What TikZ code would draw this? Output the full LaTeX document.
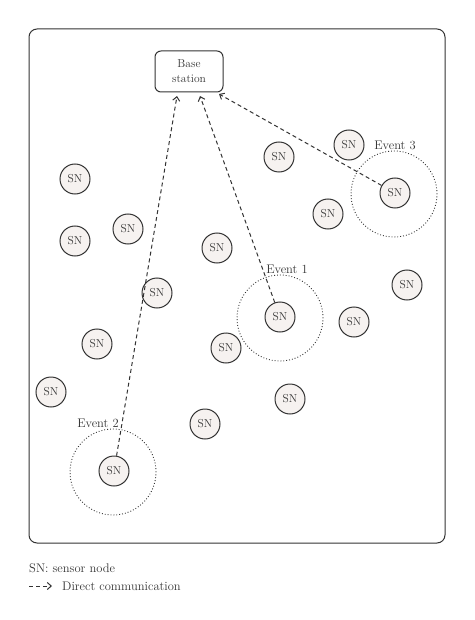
\documentclass[tikz,border=0pt]{standalone}
\usetikzlibrary{arrows.meta}
\definecolor{ink}{HTML}{333333}
\definecolor{snfill}{HTML}{F6F2F0}
\begin{document}
\begin{tikzpicture}[x=1pt,y=-1pt,
  sn/.style={circle,draw=ink,line width=1pt,fill=snfill,minimum size=30pt,inner sep=0pt,font=\fontsize{11.5}{12}\selectfont,text=ink},
  evt/.style={circle,draw=ink,dotted,line width=0.9pt,minimum size=86pt,inner sep=0pt},
  lbl/.style={font=\fontsize{12.5}{14}\selectfont,text=ink,inner sep=0pt},
  comm/.style={draw=ink,dashed,line width=1pt,dash pattern=on 4pt off 3pt,-{Straight Barb[length=4pt,width=7pt]}}]
\useasboundingbox (0,0) rectangle (474,620);
\draw[ink,line width=1pt,rounded corners=8pt] (29,29) rectangle (445,543);
\node[draw=ink,line width=1pt,rounded corners=6pt,minimum width=68pt,minimum height=41pt,align=center,
  font=\fontsize{11.5}{15}\selectfont,text=ink,inner sep=0pt] (bs) at (189,71.5) {Base\\station};
% event circles
\node[evt] (e3) at (394,194) {};
\node[evt] (e1) at (280,318) {};
\node[evt] (e2) at (113,472) {};
% sensor nodes
\node[sn] (s1) at (349,145) {SN};
\node[sn] (s2) at (279,157) {SN};
\node[sn] (s3) at (395,193) {SN};
\node[sn] (s4) at (328,214) {SN};
\node[sn] (s5) at (75,179) {SN};
\node[sn] (s6) at (75,241) {SN};
\node[sn] (s7) at (128,229) {SN};
\node[sn] (s8) at (217,248) {SN};
\node[sn] (s9) at (157,293) {SN};
\node[sn] (s10) at (407,285) {SN};
\node[sn] (s11) at (280,317) {SN};
\node[sn] (s12) at (354,322) {SN};
\node[sn] (s13) at (226,348) {SN};
\node[sn] (s14) at (97,344) {SN};
\node[sn] (s15) at (51,392) {SN};
\node[sn] (s16) at (290,399) {SN};
\node[sn] (s17) at (205,424) {SN};
\node[sn] (s18) at (114,471) {SN};
% labels
\node[lbl] (l3) at (395,145) {Event 3};
\node[lbl] (l1) at (287,269) {Event 1};
\node[lbl] (l2) at (98,423) {Event 2};
% connectors
\coordinate (b2) at (177,96);
\coordinate (b1) at (200,96);
\coordinate (b3) at (219,94);
\draw[comm] (s18) -- (b2);
\draw[comm] (s11) -- (b1);
\draw[comm] (s3) -- (b3);
% legend
\node[lbl,anchor=west] (leg1) at (29,568) {SN: sensor node};
\coordinate (la) at (29,586);
\coordinate (lb) at (52,586);
\draw[comm] (la) -- (lb);
\node[lbl,anchor=west] (leg2) at (62,586) {Direct communication};
\end{tikzpicture}
\end{document}
